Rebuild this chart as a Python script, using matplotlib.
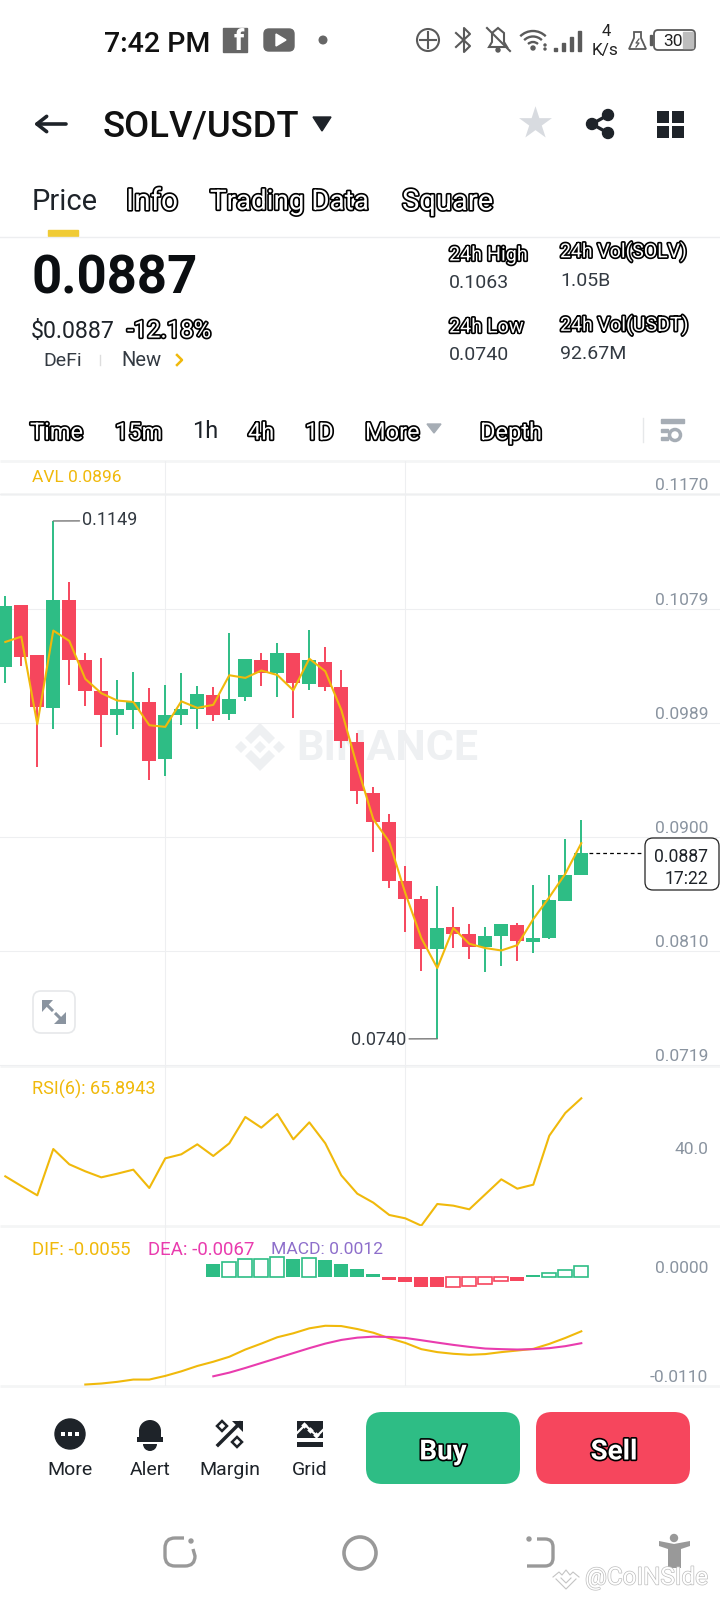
import matplotlib
matplotlib.use("Agg")
import matplotlib.pyplot as plt
import matplotlib.patheffects as pe
from matplotlib.patches import Rectangle, Circle, Polygon, FancyBboxPatch, Arc, Wedge, PathPatch
from matplotlib.path import Path
from matplotlib.transforms import ScaledTranslation

plt.rcParams['font.family'] = ['Roboto', 'DejaVu Sans']

# ---------- data ----------
opens = [.10336,.10826,.10426,.10007,.10865,.10386,.10144,.09955,.09994,.10055,.09604,.09955,.10005,
         .10112,.09965,.10097,.10386,.10286,.10444,.10197,.10373,.10173,.09744,.09341,.09112,.08641,
         .08501,.08101,.08280,.08220,.08120,.08209,.08291,.08162,.08191,.08480,.08691]
highs = [.10894,.10826,.10426,.11487,.11005,.10444,.10405,.10234,.10294,.10165,.10194,.10284,.10184,
         .10173,.10605,.10394,.10444,.10526,.10444,.10626,.10494,.10310,.09812,.09383,.09173,.08762,
         .08520,.08599,.08438,.08301,.08280,.08299,.08309,.08612,.08691,.08973,.09123]
lows = [.10205,.10344,.09546,.09847,.10194,.10026,.09704,.09794,.09844,.09444,.09475,.09876,.09847,
        .09904,.09915,.10065,.10184,.10094,.09933,.10152,.10147,.09694,.09252,.08872,.08588,.08241,
        .07927,.07395,.08109,.08027,.07919,.07969,.08009,.08070,.08180,.08480,.08691]
closes = [.10815,.10415,.10015,.10865,.10386,.10147,.09955,.10002,.10055,.09594,.09955,.10002,.10123,
          .09955,.10084,.10394,.10284,.10444,.10207,.10386,.10176,.09747,.09354,.09112,.08643,.08501,
          .08101,.08270,.08220,.08120,.08209,.08299,.08170,.08191,.08491,.08691,.08862]
avl = [.10531,.10573,.09881,.10621,.10539,.10239,.10126,.10068,.10057,.09873,.09860,.10062,.10010,
       .10034,.10268,.10247,.10305,.10270,.10149,.10399,.10299,.09994,.09546,.09130,.08951,.08546,
       .08191,.07954,.08270,.08146,.08112,.08093,.08135,.08341,.08514,.08699,.08941]
rsi = [32.04,27.85,23.79,43.90,37.25,34.21,31.60,33.19,34.93,26.98,39.85,41.59,45.93,40.87,46.36,
       57.79,53.16,59.09,48.10,55.47,46.36,32.47,24.51,20.61,15.26,13.81,10.62,20.03,19.31,17.72,
       24.23,30.74,26.68,28.42,49.68,59.53,65.89]
dif_start = 5
dif = [-108.5,-107.5,-105.8,-103.5,-103.5,-99.8,-95.2,-89.8,-85.5,-80.5,-73.2,-67.2,-60.8,-56.8,-51.8,
       -49.2,-49.5,-52.5,-56.2,-61.8,-66.5,-72.8,-75.8,-77.5,-78.5,-77.8,-75.8,-74.2,-72.5,-67.5,-61.5,-54.8]
dea_start = 13
dea = [-100.2,-96.5,-91.8,-86.8,-81.8,-76.8,-71.8,-67.2,-63.5,-61.2,-60.2,-60.5,-61.5,-63.8,-66.2,-68.5,
       -70.5,-72.2,-72.8,-73.2,-72.8,-71.8,-69.8,-66.8]
hist = [13.2,15.2,17.8,18.5,19.8,18.5,19.2,16.8,12.8,7.8,3.2,-2.8,-5.5,-9.8,-10.2,-10.2,-9.2,-7.5,-4.5,-3.8,
        1.8,3.8,7.5,11.5]
hist_hollow = [0,1,1,1,1,0,1,0,0,0,0,0,0,0,0,1,1,1,1,0,0,1,1,1]
price_ticks = [.1170,.10794,.09894,.08993,.08092,.0719]
price_labels = ['0.1170','0.1079','0.0989','0.0900','0.0810','0.0719']
rsi_ticks = [40.0]
rsi_labels = ['40.0']
macd_ticks = [0.0,-110.0]
macd_labels = ['0.0000','-0.0110']
time_grid = [10,25]

GREEN, RED, YEL = '#2EBD85', '#F6465D', '#F0B90B'
PINK, PURP, GRAY, DARK = '#E93CAE', '#8E6FCB', '#8A94A0', '#1E2329'

fig = plt.figure(figsize=(7.2, 16), dpi=100, facecolor='white')

def px_axes(top, bottom, z=1):
    a = fig.add_axes([0, 1-bottom/1600, 1, (bottom-top)/1600], zorder=z)
    a.patch.set_visible(False)
    for s in a.spines.values():
        s.set_visible(False)
    return a

def T(a, x, y, s, size, ha='left', color='black', weight='normal', outline=False, **kw):
    t = a.text(x, y, s, fontsize=size, ha=ha, va='center', color=('white' if outline else color),
               fontweight=weight, **kw)
    if outline:
        t.set_path_effects([pe.withStroke(linewidth=2.4, foreground='black')])
    return t

# background layer (watermark, separators)
bg = px_axes(0, 1600, 0)
bg.set_xlim(0, 720); bg.set_ylim(1600, 0); bg.axis('off')
WMK = '#EEF0F2'
for cx in [241, 260, 279]:
    bg.add_patch(Polygon([(cx, 741), (cx+6, 747), (cx, 753), (cx-6, 747)], closed=True, color=WMK, lw=0))
bg.add_patch(Polygon([(260, 723), (275, 738), (269, 744), (260, 735), (251, 744), (245, 738)], closed=True, color=WMK, lw=0))
bg.add_patch(Polygon([(260, 771), (275, 756), (269, 750), (260, 759), (251, 750), (245, 756)], closed=True, color=WMK, lw=0))
T(bg, 296, 749, 'BINANCE', 31, color=WMK, weight='bold')
for y in [461, 494, 1066, 1226, 1386]:
    bg.plot([0, 720], [y, y], color='#F4F5F6', lw=2.0, solid_capstyle='butt')

XL, XR = -5.3/16, (720-5.3)/16

def style(a, ticks, labels, grid_y=False):
    a.set_xlim(XL, XR)
    a.set_xticks(time_grid)
    a.xaxis.grid(True, color='#EEEFF1', lw=0.8)
    a.set_axisbelow(True)
    a.set_yticks(ticks)
    a.set_yticklabels(labels)
    if grid_y:
        a.yaxis.grid(True, color='#EEEFF1', lw=0.8)
    a.tick_params(axis='x', length=0, labelbottom=False)
    a.tick_params(axis='y', length=0, left=False, right=False, labelleft=False, labelright=True,
                  pad=-8.6, labelsize=12.5, labelcolor=GRAY)
    off = ScaledTranslation(0, 0.6/72, fig.dpi_scale_trans)
    for t in a.yaxis.get_major_ticks():
        t.label2.set_ha('right')
        t.label2.set_va('bottom')
        t.label2.set_transform(t.label2.get_transform() + off)

# ---------- price pane ----------
ax = px_axes(461, 1066, 2)
ax.set_ylim(.0718, .11961)
style(ax, price_ticks, price_labels, grid_y=True)
idx = list(range(len(opens)))
cols = [GREEN if c >= o else RED for o, c in zip(opens, closes)]
ax.vlines(idx, lows, highs, colors=cols, lw=1.4)
ax.bar(idx, [abs(c-o) for o, c in zip(opens, closes)], bottom=[min(o, c) for o, c in zip(opens, closes)],
       width=0.875, color=cols)
ax.plot(idx, avl, color=YEL, lw=1.5)
ax.annotate('0.1149', xy=(3, highs[3]), xytext=(29, 1), textcoords='offset pixels', va='center', ha='left',
            fontsize=13, color='#333A42',
            arrowprops=dict(arrowstyle='-', color='#777777', lw=1, shrinkA=0, shrinkB=0, relpos=(0, 0.45)))
ax.annotate('0.0740', xy=(27, lows[27]), xytext=(-31, -1), textcoords='offset pixels', va='center', ha='right',
            fontsize=13, color='#333A42',
            arrowprops=dict(arrowstyle='-', color='#777777', lw=1, shrinkA=0, shrinkB=0, relpos=(1, 0.55)))
ax.plot([36.45, 39.85], [closes[-1], closes[-1]], color='black', lw=0.9, dashes=(3, 2.5))

# ---------- RSI pane ----------
ax2 = px_axes(1066, 1226, 2)
ax2.set_ylim(10.48, 79.92)
style(ax2, rsi_ticks, rsi_labels)
ax2.plot(idx, rsi, color=YEL, lw=1.5)

# ---------- MACD pane ----------
ax3 = px_axes(1226, 1386, 2)
ax3.set_ylim(-108.5, 51.5)
style(ax3, macd_ticks, macd_labels)
hx = [dea_start + k for k in range(len(hist))]
for x, v, h in zip(hx, hist, hist_hollow):
    c = GREEN if v > 0 else RED
    ax3.bar(x, v, width=0.86, facecolor=('white' if h else c), edgecolor=c, lw=1.2 if h else 0)
ax3.plot([dif_start + k for k in range(len(dif))], dif, color=YEL, lw=1.5)
ax3.plot([dea_start + k for k in range(len(dea))], dea, color=PINK, lw=1.5)

# ---------- overlay UI ----------
ov = px_axes(0, 1600, 5)
ov.set_xlim(0, 720); ov.set_ylim(1600, 0); ov.axis('off')

# indicator captions
T(ov, 32, 478, 'AVL 0.0896', 12.5, color=YEL)
T(ov, 32, 1089, 'RSI(6): 65.8943', 13, color=YEL)
T(ov, 32, 1250, 'DIF: -0.0055', 13.4, color=YEL)
T(ov, 148, 1250, 'DEA: -0.0067', 13.4, color=PINK)
T(ov, 271, 1250, 'MACD: 0.0012', 12.6, color=PURP)

# current price box
ov.add_patch(FancyBboxPatch((652, 845), 60, 38, boxstyle='round,pad=7,rounding_size=8', fc='white', ec='#222222', lw=0.9))
T(ov, 708, 857, '0.0887', 12.7, ha='right', color='#1E2329')
T(ov, 708, 879, '17:22', 12.7, ha='right', color='#1E2329')

# expand button
ov.add_patch(FancyBboxPatch((39, 997), 30, 30, boxstyle='round,pad=6,rounding_size=8', fc='white', ec='#E6E8EA', lw=1.2))
EXP = '#8A94A0'
ov.add_patch(Polygon([(42, 1000), (53, 1000), (42, 1012)], closed=True, color=EXP, lw=0))
ov.add_patch(Polygon([(66, 1024), (54, 1024), (66, 1012)], closed=True, color=EXP, lw=0))
ov.plot([46, 53], [1004, 1011], color=EXP, lw=2.2, solid_capstyle='butt')
ov.plot([62, 55], [1020, 1013], color=EXP, lw=2.2, solid_capstyle='butt')

# status bar
T(ov, 104, 44, '7:42 PM', 20.5, color='#111111', weight='medium')
ov.add_patch(Rectangle((223, 28), 24, 24, color='#666666'))
T(ov, 239, 42, 'f', 21, ha='center', color='white', weight='bold')
ov.add_patch(FancyBboxPatch((268, 33), 22, 14, boxstyle='round,pad=4,rounding_size=5', color='#666666'))
ov.add_patch(Polygon([(276, 34), (276, 46), (286, 40)], closed=True, color='white'))
ov.add_patch(Circle((323, 40), 3.8, color='#666666'))
IC = '#5A5A5A'
ov.add_patch(Circle((428, 40), 11, fc='none', ec=IC, lw=1.5))
ov.plot([420, 436], [40, 40], color=IC, lw=1.5); ov.plot([428, 428], [32, 48], color=IC, lw=1.5)
ov.plot([456, 470, 464, 464, 470, 456], [33, 46, 52, 28, 34, 47], color=IC, lw=1.5)
ov.add_patch(Polygon([(489, 47), (492, 42), (492, 33), (498, 28), (504, 33), (504, 42), (507, 47)], closed=True, fc='none', ec=IC, lw=1.5))
ov.plot([487, 510], [28, 51], color=IC, lw=1.5)
ov.add_patch(Circle((498, 50), 2, color=IC))
for r in [7, 12.5, 18]:
    ov.add_patch(Arc((533, 49), 2*r, 2*r, theta1=225, theta2=315, ec=IC, lw=1.7))
ov.add_patch(Circle((533, 48), 2, color=IC))
ov.add_patch(Circle((545, 45), 1, color=IC)); ov.add_patch(Circle((545, 49), 1, color=IC))
for x, h in [(553.5, 3), (561.5, 8), (569.5, 14), (577.5, 20)]:
    ov.add_patch(Rectangle((x, 51-h), 3, h, color=IC))
T(ov, 606, 32, '4', 12, ha='center', color='#222222')
T(ov, 605, 50, 'K/s', 12.5, ha='center', color='#222222')
ov.add_patch(Polygon([(634, 32), (641, 32), (641, 38), (646, 49), (629, 49), (634, 38)], closed=True, fc='none', ec=IC, lw=1.3))
ov.plot([639, 636, 639, 636], [39, 43, 43, 47], color=IC, lw=0.9)
ov.add_patch(FancyBboxPatch((656, 32), 37, 16, boxstyle='round,pad=2,rounding_size=4', fc='white', ec=IC, lw=1.3))
ov.add_patch(Rectangle((683, 32), 10, 16, color='#BDBDBD'))
ov.add_patch(Rectangle((650, 35), 2, 10, color=IC))
T(ov, 673, 41, '30', 12.5, ha='center', color='#222222')

# title bar
ov.annotate('', xy=(34, 124), xytext=(66, 124), arrowprops=dict(arrowstyle='->,head_length=0.7,head_width=0.55', color=DARK, lw=2.6, shrinkA=0, shrinkB=0))
T(ov, 103, 127, 'SOLV/USDT', 26.2, color='#111111', weight='medium')
ov.add_patch(Polygon([(313, 117), (331, 117), (322, 131)], closed=True, color=DARK))
ov.scatter([535], [123], marker='*', s=620, color='#D8DBE0', linewidths=0)
pts = [(608, 115), (592, 124), (608, 133)]
ov.plot([p[0] for p in pts], [p[1] for p in pts], color=DARK, lw=2.4)
for p in pts:
    ov.add_patch(Circle(p, 5.5, color=DARK))
for x, y in [(657, 111), (672, 111), (657, 126), (672, 126)]:
    ov.add_patch(Rectangle((x, y), 11.5, 11.5, color=DARK, lw=0))

# tabs
T(ov, 32, 202, 'Price', 21, color='#1E2329')
T(ov, 126, 202, 'Info', 21.5, outline=True)
T(ov, 210, 202, 'Trading Data', 20, outline=True)
T(ov, 402, 202, 'Square', 21, outline=True)
ov.add_patch(Rectangle((48, 230), 30, 6, color='#F0CB35'))
ov.plot([0, 720], [236.5, 236.5], color='#EDEEF0', lw=1)

# price block
T(ov, 31, 279, '0.0887', 38, color='#0B0E11', weight='bold')
T(ov, 31, 331, '$0.0887', 16.7, color='#1E2329')
T(ov, 127, 331, '-12.18%', 17.2, outline=True)
T(ov, 43, 361, 'DeFi', 14, color='#333A42')
ov.plot([100, 100], [355, 365], color='#DDDDDD', lw=1)
T(ov, 121, 361, 'New', 14.5, color='#333A42')
ov.plot([177, 182, 177], [355, 360, 365], color=YEL, lw=1.8)
T(ov, 449, 255, '24h High', 14.2, outline=True)
T(ov, 449, 283, '0.1063', 14, color='#333A42')
T(ov, 449, 327, '24h Low', 14.2, outline=True)
T(ov, 449, 355, '0.0740', 14, color='#333A42')
T(ov, 560, 252, '24h Vol(SOLV)', 14, outline=True)
T(ov, 560, 281, '1.05B', 14, color='#333A42')
T(ov, 560, 325, '24h Vol(USDT)', 14.1, outline=True)
T(ov, 560, 354, '92.67M', 14, color='#333A42')

# interval row
for x, s in [(30, 'Time'), (115, '15m'), (248, '4h'), (305, '1D'), (365, 'More'), (480, 'Depth')]:
    T(ov, x, 433, s, 17, outline=True)
T(ov, 192, 432, '1h', 17, color='#1E2329')
ov.add_patch(Polygon([(427, 424), (441, 424), (434, 433)], closed=True, color='#A6ADB5'))
ov.plot([643, 643], [418, 442], color='#E6E8EA', lw=1)
SI = '#A6ADB5'
ov.add_patch(Rectangle((661, 419), 23, 4, color=SI))
ov.add_patch(Rectangle((661, 429), 7, 3, color=SI))
ov.add_patch(Rectangle((661, 437), 7, 3, color=SI))
ov.add_patch(Circle((675, 435), 5.5, fc='white', ec=SI, lw=2.5))

# bottom toolbar
ov.add_patch(Circle((70, 1434), 15, color=DARK))
ov.scatter([63, 70, 77], [1434, 1434, 1434], marker='s', s=9, color='white', linewidths=0)
ov.add_patch(Wedge((150, 1431), 11, 180, 360, color=DARK, lw=0))
ov.add_patch(Rectangle((139, 1430), 22, 8, color=DARK, lw=0))
ov.add_patch(Rectangle((137, 1437), 26, 5, color=DARK, lw=0))
ov.add_patch(Wedge((150, 1444), 7, 0, 180, color=DARK, lw=0))
ov.plot([218, 240], [1445, 1423], color=DARK, lw=2.5)
ov.add_patch(Polygon([(232, 1421), (243, 1421), (243, 1432)], closed=True, color=DARK, lw=0))
for c in [(222, 1426), (237, 1442)]:
    ov.add_patch(Polygon([(c[0], c[1]-5), (c[0]+5, c[1]), (c[0], c[1]+5), (c[0]-5, c[1])], closed=True, fc='white', ec=DARK, lw=1.8))
ov.add_patch(Rectangle((297, 1421), 26, 17, color=DARK, lw=0))
ov.plot([297, 305, 317, 323], [1433, 1425, 1436, 1430], color='white', lw=1.6)
ov.scatter([304, 310, 316], [1425, 1430, 1435], marker='D', s=11, color='white', linewidths=0)
ov.add_patch(Rectangle((297, 1442), 26, 5, color=DARK, lw=0))
for x, s in [(70, 'More'), (150, 'Alert'), (230, 'Margin'), (310, 'Grid')]:
    T(ov, x, 1470, s, 14, ha='center', color='#1E2329')
ov.add_patch(FancyBboxPatch((382, 1428), 122, 40, boxstyle='round,pad=16,rounding_size=16', color=GREEN, lw=0))
ov.add_patch(FancyBboxPatch((552, 1428), 122, 40, boxstyle='round,pad=16,rounding_size=16', color=RED, lw=0))
T(ov, 443, 1452, 'Buy', 20, ha='center', weight='bold', outline=True)
T(ov, 614, 1452, 'Sell', 20, ha='center', weight='bold', outline=True)

# navigation bar
NV = '#999999'
L3, C3 = Path.LINETO, Path.CURVE3
ov.add_patch(PathPatch(Path([(184, 1538), (175, 1538), (165, 1538), (165, 1548), (165, 1556), (165, 1566), (175, 1566),
                             (185, 1566), (195, 1566), (195, 1556), (193, 1549)],
                            [Path.MOVETO, L3, C3, C3, L3, C3, C3, L3, C3, C3, L3]), fc='none', ec=NV, lw=2.4))
ov.add_patch(Circle((191, 1541), 2, color=NV))
ov.add_patch(Circle((360, 1553), 16, fc='none', ec=NV, lw=2.6))
ov.add_patch(PathPatch(Path([(537, 1539), (545, 1539), (553, 1539), (553, 1547), (553, 1558), (553, 1566), (545, 1566), (527, 1566)],
                            [Path.MOVETO, L3, C3, C3, L3, C3, C3, L3]), fc='none', ec=NV, lw=2.4))
ov.add_patch(Circle((529, 1539), 2, color=NV))
ov.add_patch(Circle((674, 1538), 3.5, color=NV))
ov.add_patch(Polygon([(659, 1541), (674, 1544), (690, 1541), (690, 1546), (681, 1549), (681, 1568), (668, 1568), (668, 1549), (659, 1546)], closed=True, color=NV, lw=0))

# source watermark
wm = T(ov, 585, 1578, '@CoINSIde', 17.5, color='white')
wm.set_path_effects([pe.withStroke(linewidth=1.0, foreground='#BDBDBD')])
WL = '#C4C4C4'
ov.plot([553, 559, 562, 566, 570, 573, 579], [1577, 1572, 1575, 1570, 1575, 1572, 1577], color=WL, lw=0.8)
ov.plot([556, 566, 576], [1579, 1589, 1579], color=WL, lw=0.8)
ov.plot([561, 566, 571], [1578, 1583, 1578], color=WL, lw=0.8)

fig.savefig('out.png', dpi=100, facecolor='white')
